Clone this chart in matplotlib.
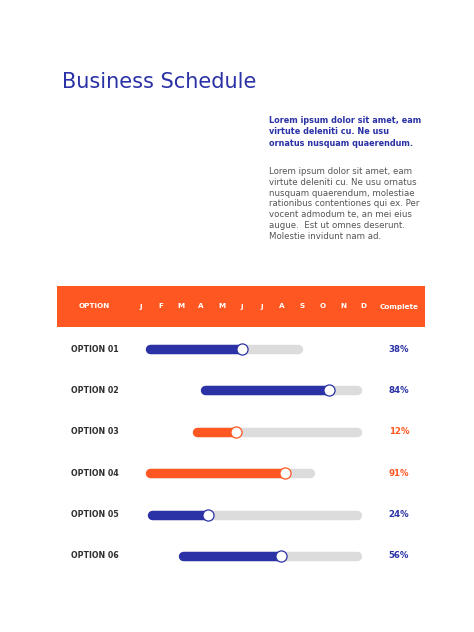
import matplotlib.pyplot as plt

# data
months = ["J", "F", "M", "A", "M", "J", "J", "A", "S", "O", "N", "D"]
options = ["OPTION 01", "OPTION 02", "OPTION 03", "OPTION 04", "OPTION 05", "OPTION 06"]
starts = [0.45, 3.2, 2.8, 0.45, 0.55, 2.1]      # month units
ends = [7.8, 10.7, 10.7, 8.35, 10.7, 10.7]
progress = [5.0, 9.3, 4.7, 7.15, 3.35, 6.95]
complete = ["38%", "84%", "12%", "91%", "24%", "56%"]
colors = ["blue", "blue", "orange", "orange", "blue", "blue"]

BLUE = "#2B32A6"
ORANGE = "#FF5722"
GRAY = "#DCDCDC"
DARK = "#2E2E2E"
pal = {"blue": BLUE, "orange": ORANGE}

plt.rcParams["font.family"] = ["DejaVu Sans"]

W, H = 474, 632
fig = plt.figure(figsize=(W / 100, H / 100), dpi=100)

def fx(px):
    return px / W

def fy(py):
    return 1 - py / H

# title + text
fig.text(fx(62), fy(82), "Business Schedule", color=BLUE, fontsize=15, va="center", ha="left")
bold_txt = "Lorem ipsum dolor sit amet, eam\nvirtute deleniti cu. Ne usu\nornatus nusquam quaerendum."
fig.text(fx(269), fy(116), bold_txt, color=BLUE, fontsize=5.9, fontweight="bold",
         va="top", ha="left", linespacing=1.35)
body_txt = ("Lorem ipsum dolor sit amet, eam\nvirtute deleniti cu. Ne usu ornatus\n"
            "nusquam quaerendum, molestiae\nrationibus contentiones qui ex. Per\n"
            "vocent admodum te, an mei eius\naugue.  Est ut omnes deserunt.\n"
            "Molestie invidunt nam ad.")
fig.text(fx(269), fy(167), body_txt, color="#555555", fontsize=6.2,
         va="top", ha="left", linespacing=1.25)

# month scale: x_px = 140.5 + 20.25 * m
x0, x1 = 57, 425
xl = ((x0 - 140.5) / 20.25, (x1 - 140.5) / 20.25)

# header band
hax = fig.add_axes([fx(x0), fy(327), fx(x1) - fx(x0), (327 - 286) / H])
hax.set_facecolor(ORANGE)
hax.set_xlim(*xl)
hax.set_ylim(0, 1)
for s in hax.spines.values():
    s.set_visible(False)
hax.set_xticks([])
hax.set_yticks([])
for i, m in enumerate(months):
    hax.text(i, 0.5, m, color="white", fontsize=5.2, fontweight="bold", ha="center", va="center")
hax.text((79 - 140.5) / 20.25, 0.5, "OPTION", color="white", fontsize=5.2, fontweight="bold",
         ha="left", va="center")
hax.text((399 - 140.5) / 20.25, 0.5, "Complete", color="white", fontsize=5.2, fontweight="bold",
         ha="center", va="center")

# bars
top, bot = 328, 590
ax = fig.add_axes([fx(x0), fy(bot), fx(x1) - fx(x0), (bot - top) / H])
ax.set_xlim(*xl)
ax.set_ylim((bot - 349) / 41.4, (top - 349) / 41.4)
ax.axis("off")
for i in range(len(options)):
    c = pal[colors[i]]
    ax.plot([starts[i], ends[i]], [i, i], color=GRAY, lw=6.8, solid_capstyle="round")
    ax.plot([starts[i], progress[i]], [i, i], color=c, lw=6.8, solid_capstyle="round")
    ax.plot(progress[i], i, "o", ms=8, mfc="white", mec=c, mew=0.9)
    ax.text((71 - 140.5) / 20.25, i, options[i], color=DARK, fontsize=5.7, fontweight="bold",
            ha="left", va="center")
    ax.text((399 - 140.5) / 20.25, i, complete[i], color=c, fontsize=6.2, fontweight="bold",
            ha="center", va="center")

fig.savefig("out.png", dpi=100, facecolor="white")
